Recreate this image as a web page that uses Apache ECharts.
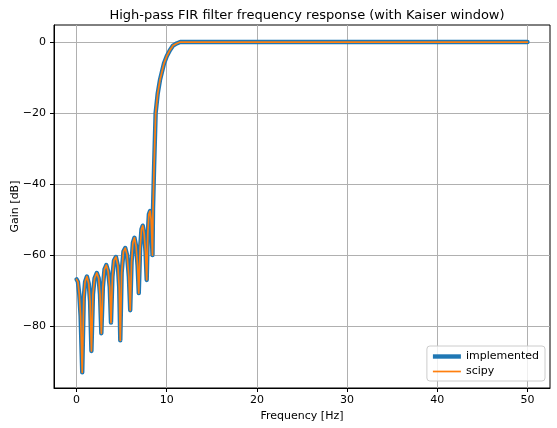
<!DOCTYPE html>
<html>
<head>
<meta charset="utf-8">
<script src="https://cdn.jsdelivr.net/npm/echarts@6/dist/echarts.min.js"></script>
<style>
  html, body { margin: 0; padding: 0; background: #fff; }
  #chart { width: 557px; height: 428px; }
</style>
</head>
<body>
<div id="chart"></div>
<script>
// frequency response (Hz, dB)
var freqHz = [
  0.00, 0.15, 0.30, 0.45, 0.63, 0.80, 0.95, 1.15, 1.35, 1.50,
  1.65, 1.82, 2.00, 2.25, 2.45, 2.60, 2.75, 2.92, 3.10, 3.30,
  3.50, 3.68, 3.82, 3.98, 4.15, 4.37, 4.58, 4.73, 4.85, 5.00,
  5.20, 5.40, 5.60, 5.80, 5.95, 6.10, 6.25, 6.42, 6.60, 6.77,
  6.90, 7.05, 7.20, 7.34, 7.50, 7.65, 7.78, 7.90, 8.02, 8.15,
  8.27, 8.35, 8.42, 8.48, 8.60, 8.77, 9.00, 9.25, 9.70, 10.00,
  10.35, 10.70, 11.10, 11.50, 12.0, 15.0, 20.0, 30.0, 40.0, 50.0
];
var gainImplemented = [
  -66.8, -67.5, -71, -77, -93, -72, -67.5, -66, -68, -73,
  -87, -71, -66.5, -65, -66.5, -71, -82, -69, -64, -62.8,
  -64.5, -69, -79, -66, -61.5, -60.5, -63, -69, -84, -65,
  -59, -58, -60, -66, -75.5, -62, -56.5, -55.1, -57.5, -63,
  -70.7, -58, -52.7, -51.7, -54, -59, -67, -54, -48.5, -47.6,
  -50, -55, -60, -47, -35, -20, -14.5, -10.7, -6, -4,
  -2.3, -1.0, -0.4, 0, 0, 0, 0, 0, 0, 0
];
// scipy reference overlaps the implemented response
var gainScipy = gainImplemented.slice();

var xTicks = [0, 10, 20, 30, 40, 50];
var yTicks = [-80, -60, -40, -20, 0];

function pairs(xs, ys) {
  return xs.map(function (x, i) { return [x, ys[i]]; });
}

// legend line icons: the leading moves fix the box height so the bar keeps its thickness
var thickIcon = 'path://M0,0M0,10M0,2.8H28V7.2H0Z';
var thinIcon = 'path://M0,0M0,10M0,4.15H28V5.85H0Z';

var chart = echarts.init(document.getElementById('chart'));
chart.setOption({
  animation: false,
  backgroundColor: '#fff',
  textStyle: { fontFamily: 'DejaVu Sans' },
  title: {
    text: 'High-pass FIR filter frequency response (with Kaiser window)',
    left: 302,
    textAlign: 'center',
    top: 4,
    textStyle: { fontSize: 13, fontWeight: 'normal', color: '#000', fontFamily: 'DejaVu Sans' }
  },
  grid: {
    left: 54, right: 7, top: 25, bottom: 40,
    outerBoundsMode: 'none',
    containLabel: false,
    show: true, borderColor: '#000', borderWidth: 1, backgroundColor: '#fff'
  },
  legend: {
    orient: 'vertical',
    right: 12,
    bottom: 47,
    itemWidth: 28,
    itemHeight: 10,
    itemGap: 4,
    padding: [5, 6, 4, 6],
    borderColor: '#ccc',
    borderWidth: 1,
    borderRadius: 3,
    backgroundColor: 'rgba(255,255,255,0.8)',
    textStyle: { fontSize: 11, color: '#000', fontFamily: 'DejaVu Sans' },
    data: [
      { name: 'implemented', icon: thickIcon },
      { name: 'scipy', icon: thinIcon }
    ]
  },
  xAxis: {
    type: 'value',
    min: -2.5,
    max: 52.5,
    name: 'Frequency [Hz]',
    nameLocation: 'middle',
    nameGap: 23,
    nameMoveOverlap: false,
    nameTextStyle: { fontSize: 11, color: '#000' },
    axisLine: { onZero: false, lineStyle: { color: '#000', width: 1 } },
    axisTick: { inside: false, length: 4, lineStyle: { color: '#000' }, customValues: xTicks },
    axisLabel: { fontSize: 11, color: '#000', margin: 7, customValues: xTicks },
    splitLine: { show: true, lineStyle: { color: '#b0b0b0', width: 1 } }
  },
  yAxis: {
    type: 'value',
    min: -97.4,
    max: 4.8,
    name: 'Gain [dB]',
    nameLocation: 'middle',
    nameGap: 33,
    nameMoveOverlap: false,
    nameTextStyle: { fontSize: 11, color: '#000' },
    axisLine: { show: true, onZero: false, lineStyle: { color: '#000', width: 1 } },
    axisTick: { show: true, inside: false, length: 4, lineStyle: { color: '#000' }, customValues: yTicks },
    axisLabel: {
      fontSize: 11, color: '#000', margin: 8, customValues: yTicks,
      formatter: function (v) { return v < 0 ? '\u2212' + Math.abs(v) : String(v); }
    },
    splitLine: { show: true, lineStyle: { color: '#b0b0b0', width: 1 } }
  },
  series: [
    {
      name: 'implemented',
      type: 'line',
      data: pairs(freqHz, gainImplemented),
      showSymbol: false,
      symbol: 'none',
      lineStyle: { color: '#1f77b4', width: 4.4, cap: 'round', join: 'round' },
      itemStyle: { color: '#1f77b4' },
      z: 2
    },
    {
      name: 'scipy',
      type: 'line',
      data: pairs(freqHz, gainScipy),
      showSymbol: false,
      symbol: 'none',
      lineStyle: { color: '#ff7f0e', width: 1.7, cap: 'round', join: 'round' },
      itemStyle: { color: '#ff7f0e' },
      z: 3
    }
  ]
});
</script>
</body>
</html>
